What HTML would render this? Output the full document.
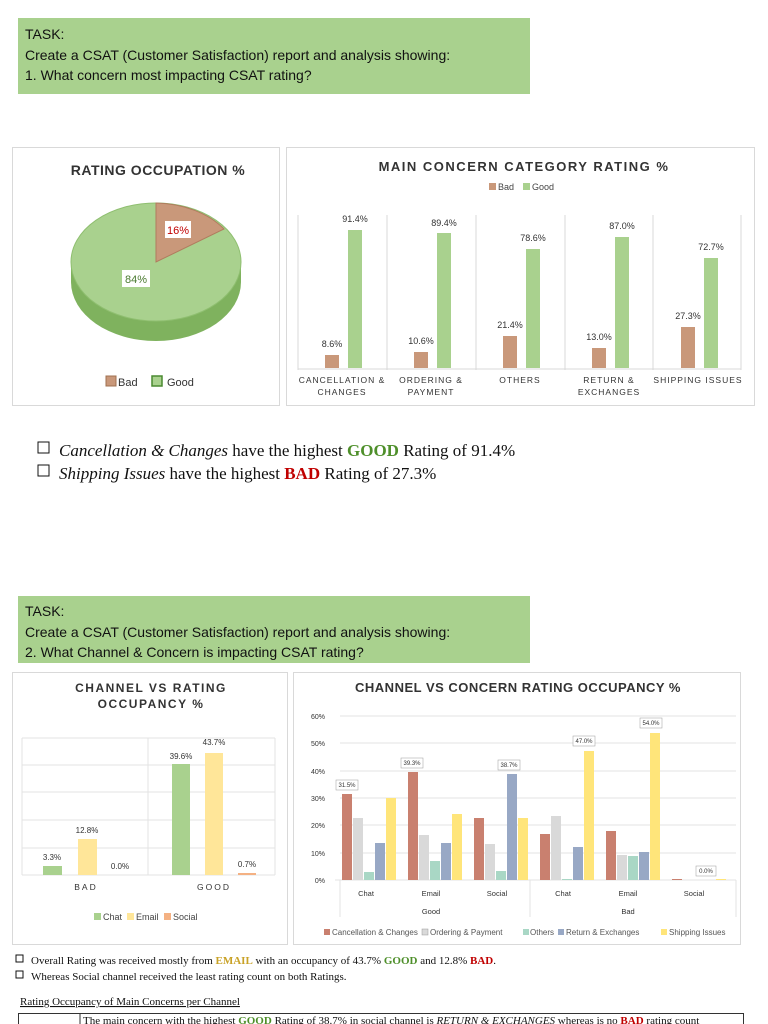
<!DOCTYPE html>
<html><head><meta charset="utf-8"><style>
body{margin:0;background:#fff;width:768px;height:1024px;overflow:hidden}
svg{display:block}
.s{font-family:"Liberation Sans",sans-serif}
.r{font-family:"Liberation Serif",serif}
</style></head><body>
<svg width="768" height="1024" viewBox="0 0 768 1024" xmlns="http://www.w3.org/2000/svg">
<!-- Task box 1 -->
<rect x="18" y="18" width="512" height="76" fill="#a9d18e"/>
<g class="s" font-size="14" fill="#111">
<text x="25" y="39">TASK:</text>
<text x="25" y="60">Create a CSAT (Customer Satisfaction) report and analysis showing:</text>
<text x="25" y="80">1. What concern most impacting CSAT rating?</text>
</g>
<!-- Chart 1 pie -->
<rect x="12.5" y="147.5" width="267" height="258" fill="#fff" stroke="#d9d9d9"/>
<text x="158" y="175" class="s" font-size="14" font-weight="bold" fill="#333" text-anchor="middle" letter-spacing="0.5">RATING OCCUPATION %</text>
<path d="M71 262 L71 282 A85 59 0 0 0 241 282 L241 262 Z" fill="#7fb25e"/>
<ellipse cx="156" cy="262" rx="85" ry="59" fill="#a9d18e" stroke="#8fbf70"/>
<path d="M156 262 L156 203 A85 59 0 0 1 224 229 Z" fill="#c9987a" stroke="#b07c5e"/>
<rect x="165" y="221" width="26" height="17" fill="#fff"/>
<text x="178" y="234" class="s" font-size="11" fill="#c00000" text-anchor="middle">16%</text>
<rect x="122" y="270" width="28" height="17" fill="#fff"/>
<text x="136" y="283" class="s" font-size="11" fill="#4a7a30" text-anchor="middle">84%</text>
<rect x="106" y="376" width="10" height="10" fill="#c9987a" stroke="#a07050"/>
<text x="118" y="386" class="s" font-size="11" fill="#333">Bad</text>
<rect x="152" y="376" width="10" height="10" fill="#a9d18e" stroke="#4a8a30" stroke-width="1.5"/>
<text x="167" y="386" class="s" font-size="11" fill="#333">Good</text>
<!-- Chart 2 -->
<rect x="286.5" y="147.5" width="468" height="258" fill="#fff" stroke="#d9d9d9"/>
<text x="524" y="171" class="s" font-size="13" font-weight="bold" fill="#333" text-anchor="middle" letter-spacing="1.5">MAIN CONCERN CATEGORY RATING %</text>
<rect x="489" y="183" width="7" height="7" fill="#c9987a"/><text x="498" y="190" class="s" font-size="9" fill="#444">Bad</text>
<rect x="523" y="183" width="7" height="7" fill="#a9d18e"/><text x="532" y="190" class="s" font-size="9" fill="#444">Good</text>
<g stroke="#d9d9d9"><line x1="298" y1="215" x2="298" y2="370"/><line x1="387" y1="215" x2="387" y2="370"/><line x1="476" y1="215" x2="476" y2="370"/><line x1="565" y1="215" x2="565" y2="370"/><line x1="653" y1="215" x2="653" y2="370"/><line x1="741" y1="215" x2="741" y2="370"/><line x1="298" y1="369" x2="741" y2="369"/></g>
<g class="s" font-size="9" fill="#333" text-anchor="middle">
<rect x="325" y="355" width="14" height="13" fill="#c9987a"/><rect x="348" y="230" width="14" height="138" fill="#a9d18e"/>
<text x="332" y="347">8.6%</text><text x="355" y="222">91.4%</text>
<rect x="414" y="352" width="14" height="16" fill="#c9987a"/><rect x="437" y="233" width="14" height="135" fill="#a9d18e"/>
<text x="421" y="344">10.6%</text><text x="444" y="226">89.4%</text>
<rect x="503" y="336" width="14" height="32" fill="#c9987a"/><rect x="526" y="249" width="14" height="119" fill="#a9d18e"/>
<text x="510" y="328">21.4%</text><text x="533" y="241">78.6%</text>
<rect x="592" y="348" width="14" height="20" fill="#c9987a"/><rect x="615" y="237" width="14" height="131" fill="#a9d18e"/>
<text x="599" y="340">13.0%</text><text x="622" y="229">87.0%</text>
<rect x="681" y="327" width="14" height="41" fill="#c9987a"/><rect x="704" y="258" width="14" height="110" fill="#a9d18e"/>
<text x="688" y="319">27.3%</text><text x="711" y="250">72.7%</text>
</g>
<g class="s" font-size="8.5" fill="#333" text-anchor="middle" letter-spacing="1">
<text x="342" y="383">CANCELLATION &amp;</text><text x="342" y="395">CHANGES</text>
<text x="431" y="383">ORDERING &amp;</text><text x="431" y="395">PAYMENT</text>
<text x="520" y="383">OTHERS</text>
<text x="609" y="383">RETURN &amp;</text><text x="609" y="395">EXCHANGES</text>
<text x="698" y="383">SHIPPING ISSUES</text>
</g>
<!-- bullets 1 -->
<g class="r" font-size="17" fill="#111">
<rect x="38" y="442" width="11" height="11" fill="none" stroke="#111"/>
<text x="59" y="456"><tspan font-style="italic">Cancellation &amp; Changes</tspan> have the highest <tspan fill="#4e8f2a" font-weight="bold">GOOD</tspan> Rating of 91.4%</text>
<rect x="38" y="465" width="11" height="11" fill="none" stroke="#111"/>
<text x="59" y="479"><tspan font-style="italic">Shipping Issues</tspan> have the highest <tspan fill="#c00000" font-weight="bold">BAD</tspan> Rating of 27.3%</text>
</g>
<!-- Task box 2 -->
<rect x="18" y="596" width="512" height="67" fill="#a9d18e"/>
<g class="s" font-size="14" fill="#111">
<text x="25" y="616">TASK:</text>
<text x="25" y="637">Create a CSAT (Customer Satisfaction) report and analysis showing:</text>
<text x="25" y="657">2. What Channel &amp; Concern is impacting CSAT rating?</text>
</g>
<!-- Chart 3 -->
<rect x="12.5" y="672.5" width="275" height="272" fill="#fff" stroke="#d9d9d9"/>
<g class="s" font-size="12" font-weight="bold" fill="#333" text-anchor="middle" letter-spacing="1.5">
<text x="151" y="692">CHANNEL VS RATING</text><text x="151" y="708">OCCUPANCY %</text></g>
<g stroke="#e3e3e3"><line x1="22" y1="738" x2="275" y2="738"/><line x1="22" y1="765" x2="275" y2="765"/><line x1="22" y1="792" x2="275" y2="792"/><line x1="22" y1="820" x2="275" y2="820"/><line x1="22" y1="848" x2="275" y2="848"/><line x1="22" y1="875" x2="275" y2="875"/><line x1="148" y1="738" x2="148" y2="875"/><line x1="275" y1="738" x2="275" y2="875"/><line x1="22" y1="738" x2="22" y2="875"/></g>
<g class="s" font-size="8" fill="#333" text-anchor="middle">
<rect x="43" y="866" width="19" height="9" fill="#a9d18e"/><text x="52" y="860">3.3%</text>
<rect x="78" y="839" width="19" height="36" fill="#ffe699"/><text x="87" y="833">12.8%</text>
<text x="120" y="869">0.0%</text>
<rect x="172" y="764" width="18" height="111" fill="#a9d18e"/><text x="181" y="759">39.6%</text>
<rect x="205" y="753" width="18" height="122" fill="#ffe699"/><text x="214" y="745">43.7%</text>
<rect x="238" y="873" width="18" height="2" fill="#f4b183"/><text x="247" y="867">0.7%</text>
</g>
<g class="s" font-size="8.5" fill="#333" text-anchor="middle" letter-spacing="2"><text x="86" y="890">BAD</text><text x="214" y="890">GOOD</text></g>
<g class="s" font-size="9" fill="#444">
<rect x="94" y="913" width="7" height="7" fill="#a9d18e"/><text x="103" y="920">Chat</text>
<rect x="127" y="913" width="7" height="7" fill="#ffe699"/><text x="136" y="920">Email</text>
<rect x="164" y="913" width="7" height="7" fill="#f4b183"/><text x="173" y="920">Social</text></g>
<!-- Chart 4 -->
<rect x="293.5" y="672.5" width="447" height="272" fill="#fff" stroke="#d9d9d9"/>
<text x="518" y="692" class="s" font-size="13" font-weight="bold" fill="#333" text-anchor="middle" letter-spacing="0.5">CHANNEL VS CONCERN RATING OCCUPANCY %</text>
<g stroke="#e3e3e3"><line x1="340" y1="716" x2="736" y2="716"/><line x1="340" y1="743" x2="736" y2="743"/><line x1="340" y1="771" x2="736" y2="771"/><line x1="340" y1="798" x2="736" y2="798"/><line x1="340" y1="825" x2="736" y2="825"/><line x1="340" y1="853" x2="736" y2="853"/><line x1="335" y1="880" x2="736" y2="880"/><line x1="340" y1="880" x2="340" y2="917"/><line x1="530" y1="880" x2="530" y2="917"/><line x1="736" y1="880" x2="736" y2="917"/></g>
<g class="s" font-size="7" fill="#333" text-anchor="end">
<text x="325" y="719">60%</text><text x="325" y="746">50%</text><text x="325" y="774">40%</text><text x="325" y="801">30%</text><text x="325" y="828">20%</text><text x="325" y="856">10%</text><text x="325" y="883">0%</text></g>
<g id="bars">
<!-- group width ~66: bars 10px, offsets -->
<g fill="#c9806f"><rect x="342" y="794" width="10" height="86"/><rect x="408" y="772" width="10" height="108"/><rect x="474" y="818" width="10" height="62"/><rect x="540" y="834" width="10" height="46"/><rect x="606" y="831" width="10" height="49"/><rect x="672" y="879" width="10" height="1"/></g>
<g fill="#d9d9d9"><rect x="353" y="818" width="10" height="62"/><rect x="419" y="835" width="10" height="45"/><rect x="485" y="844" width="10" height="36"/><rect x="551" y="816" width="10" height="64"/><rect x="617" y="855" width="10" height="25"/></g>
<g fill="#a9d7c5"><rect x="364" y="872" width="10" height="8"/><rect x="430" y="861" width="10" height="19"/><rect x="496" y="871" width="10" height="9"/><rect x="562" y="879" width="10" height="1"/><rect x="628" y="856" width="10" height="24"/></g>
<g fill="#98a8c5"><rect x="375" y="843" width="10" height="37"/><rect x="441" y="843" width="10" height="37"/><rect x="507" y="774" width="10" height="106"/><rect x="573" y="847" width="10" height="33"/><rect x="639" y="852" width="10" height="28"/></g>
<g fill="#ffe57a"><rect x="386" y="798" width="10" height="82"/><rect x="452" y="814" width="10" height="66"/><rect x="518" y="818" width="10" height="62"/><rect x="584" y="751" width="10" height="129"/><rect x="650" y="733" width="10" height="147"/><rect x="716" y="879" width="10" height="1"/></g>
</g>
<g class="s" font-size="6" fill="#333" text-anchor="middle">
<rect x="336" y="780" width="22" height="10" fill="#fff" stroke="#999" stroke-width=".5"/><text x="347" y="787">31.5%</text>
<rect x="401" y="758" width="22" height="10" fill="#fff" stroke="#999" stroke-width=".5"/><text x="412" y="765">39.3%</text>
<rect x="498" y="760" width="22" height="10" fill="#fff" stroke="#999" stroke-width=".5"/><text x="509" y="767">38.7%</text>
<rect x="573" y="736" width="22" height="10" fill="#fff" stroke="#999" stroke-width=".5"/><text x="584" y="743">47.0%</text>
<rect x="640" y="718" width="22" height="10" fill="#fff" stroke="#999" stroke-width=".5"/><text x="651" y="725">54.0%</text>
<rect x="696" y="866" width="20" height="10" fill="#fff" stroke="#999" stroke-width=".5"/><text x="706" y="873">0.0%</text></g>
<g class="s" font-size="7.5" fill="#333" text-anchor="middle">
<text x="366" y="896">Chat</text><text x="431" y="896">Email</text><text x="497" y="896">Social</text><text x="563" y="896">Chat</text><text x="628" y="896">Email</text><text x="694" y="896">Social</text>
<text x="431" y="914">Good</text><text x="628" y="914">Bad</text></g>
<g class="s" font-size="8" fill="#555">
<rect x="324" y="929" width="6" height="6" fill="#c9806f"/><text x="332" y="935">Cancellation &amp; Changes</text>
<rect x="422" y="929" width="6" height="6" fill="#d9d9d9" stroke="#999" stroke-width=".5"/><text x="430" y="935">Ordering &amp; Payment</text>
<rect x="523" y="929" width="6" height="6" fill="#a9d7c5"/><text x="530" y="935">Others</text>
<rect x="558" y="929" width="6" height="6" fill="#98a8c5"/><text x="566" y="935">Return &amp; Exchanges</text>
<rect x="661" y="929" width="6" height="6" fill="#ffe57a"/><text x="669" y="935">Shipping Issues</text></g>
<!-- bullets 2 -->
<g class="r" font-size="11" fill="#111">
<rect x="16" y="955" width="7" height="7" fill="none" stroke="#111"/>
<text x="31" y="964">Overall Rating was received mostly from <tspan fill="#c9a227" font-weight="bold">EMAIL</tspan> with an occupancy of 43.7% <tspan fill="#4e8f2a" font-weight="bold">GOOD</tspan>  and 12.8% <tspan fill="#c00000" font-weight="bold">BAD</tspan>.</text>
<rect x="16" y="971" width="7" height="7" fill="none" stroke="#111"/>
<text x="31" y="980">Whereas Social channel received the least rating count on both Ratings.</text>
<text x="20" y="1005" text-decoration="underline">Rating Occupancy of Main Concerns per Channel</text>
</g>
<rect x="18.5" y="1013.5" width="725" height="20" fill="none" stroke="#333"/>
<line x1="80" y1="1013" x2="80" y2="1024" stroke="#333"/>
<text x="83" y="1024" class="r" font-size="11" fill="#111">The main concern with the highest <tspan fill="#4e8f2a" font-weight="bold">GOOD</tspan> Rating of 38.7% in social channel is <tspan font-style="italic">RETURN &amp; EXCHANGES</tspan> whereas is no <tspan fill="#c00000" font-weight="bold">BAD</tspan> rating count</text>
</svg>
</body></html>
